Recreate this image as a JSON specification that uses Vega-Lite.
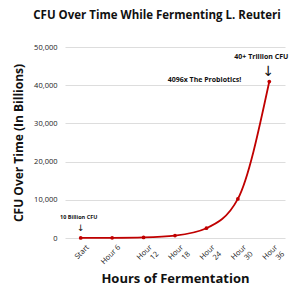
{
  "$schema": "https://vega.github.io/schema/vega-lite/v6.json",
  "width": 220,
  "height": 191,
  "autosize": {"type": "none"},
  "padding": {"left": 65, "top": 47, "right": 15, "bottom": 62},
  "background": "white",
  "title": {
    "text": "CFU Over Time While Fermenting L. Reuteri",
    "font": "Open Sans",
    "fontSize": 11.5,
    "fontWeight": "bold",
    "color": "#111111",
    "anchor": "middle",
    "dx": -18,
    "offset": 22
  },
  "data": {
    "values": [
      {"hour": "Start", "cfu": 10, "note": "10 Billion CFU"},
      {"hour": "Hour 6", "cfu": 40},
      {"hour": "Hour 12", "cfu": 160},
      {"hour": "Hour 18", "cfu": 640},
      {"hour": "Hour 24", "cfu": 2560},
      {"hour": "Hour 30", "cfu": 10240},
      {"hour": "Hour 36", "cfu": 40960, "note": "40+ Trillion CFU", "note2": "4096x The Probiotics!"}
    ]
  },
  "encoding": {
    "x": {
      "field": "hour",
      "type": "ordinal",
      "sort": null,
      "scale": {"type": "point", "padding": 0.5},
      "axis": {
        "title": "Hours of Fermentation",
        "titleFont": "Open Sans",
        "titleFontSize": 13,
        "titleFontWeight": "bold",
        "titleColor": "#111111",
        "titlePadding": 5,
        "labelAngle": -45,
        "labelFont": "Open Sans",
        "labelFontSize": 7.5,
        "labelColor": "#222222",
        "labelExpr": "datum.value == 'Start' || datum.value == 'Hour 6' ? datum.value : split(datum.value, ' ')",
        "ticks": false,
        "domain": false,
        "grid": false,
        "labelPadding": 5,
        "labelOffset": 4
      }
    },
    "y": {
      "field": "cfu",
      "type": "quantitative",
      "scale": {"domain": [0, 50000]},
      "axis": {
        "title": "CFU Over Time (In Billions)",
        "titleFont": "Open Sans",
        "titleFontSize": 12,
        "titleFontWeight": "bold",
        "titleColor": "#111111",
        "titlePadding": 8,
        "values": [0, 10000, 20000, 30000, 40000, 50000],
        "format": ",d",
        "labelFont": "Open Sans",
        "labelFontSize": 7.5,
        "labelColor": "#222222",
        "ticks": false,
        "domain": false,
        "labelPadding": 8,
        "gridColor": "#dddddd"
      }
    }
  },
  "layer": [
    {
      "mark": {"type": "line", "interpolate": "monotone", "color": "#c00000", "strokeWidth": 1.8}
    },
    {
      "mark": {"type": "point", "filled": true, "color": "#c00000", "size": 14, "opacity": 1}
    },
    {
      "transform": [{"filter": "datum.hour == 'Start'"}],
      "mark": {"type": "text", "fontSize": 5.5, "font": "Open Sans", "fontWeight": "bold", "color": "#111111", "dy": -21, "dx": -2},
      "encoding": {"text": {"field": "note"}}
    },
    {
      "transform": [{"filter": "datum.hour == 'Start'"}],
      "mark": {"type": "text", "fontSize": 9, "font": "DejaVu Sans", "color": "#111111", "dy": -10},
      "encoding": {"text": {"value": "↓"}}
    },
    {
      "transform": [{"filter": "datum.hour == 'Hour 36'"}],
      "mark": {"type": "text", "fontSize": 7, "font": "Open Sans", "fontWeight": "bold", "color": "#111111", "dy": -25, "dx": -8, "align": "center"},
      "encoding": {"text": {"field": "note"}}
    },
    {
      "transform": [{"filter": "datum.hour == 'Hour 36'"}],
      "mark": {"type": "text", "fontSize": 14, "font": "DejaVu Sans", "color": "#111111", "dy": -10, "dx": -1},
      "encoding": {"text": {"value": "↓"}}
    },
    {
      "transform": [{"filter": "datum.hour == 'Hour 36'"}],
      "mark": {"type": "text", "fontSize": 7, "font": "Open Sans", "fontWeight": "bold", "color": "#111111", "dy": -2, "dx": -28, "align": "right"},
      "encoding": {"text": {"field": "note2"}}
    }
  ],
  "config": {"view": {"stroke": null}}
}
